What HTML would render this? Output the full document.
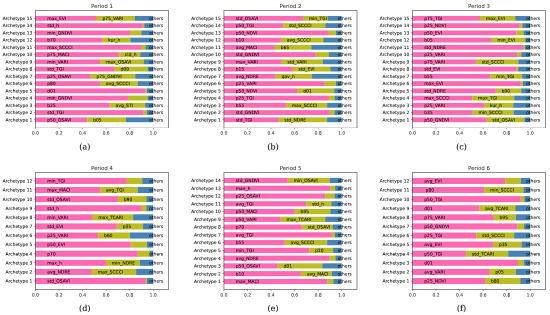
<!DOCTYPE html>
<html lang="en"><head><meta charset="utf-8"><title>Archetype periods</title>
<style>
html,body{margin:0;padding:0;background:#fff}
body{width:550px;height:315px;overflow:hidden}
svg{display:block}
.wrap{width:550px;height:315px;overflow:hidden;position:relative}
.ss{width:1100px;height:630px;transform:scale(0.5);transform-origin:0 0;will-change:transform}
text{font-family:"DejaVu Sans","Liberation Sans",sans-serif;fill:#000;text-rendering:geometricPrecision;stroke:#000;stroke-width:0.05px}
.t{font-size:4.45px}
.x{font-size:4.45px;fill:#222;stroke:#222;stroke-width:0.04px}
.h{font-size:5.35px;fill:#222;stroke:none}
.c{font-family:"DejaVu Serif","Liberation Serif",serif;font-size:8.1px;fill:#111;stroke:#111;stroke-width:0.1px}
.sp{fill:none;stroke:#000;stroke-width:0.45}
.tk{stroke:#000;stroke-width:0.35}
</style></head><body>
<div class="wrap"><div class="ss">
<svg width="1100" height="630" viewBox="0 0 550 315">
<rect width="550" height="315" fill="#fff"/>
<g>
<g>
<text class="h" x="101.98" y="7.9" text-anchor="middle">Period 1</text>
<rect x="35.45" y="15.95" width="61.11" height="4.82" fill="#ff69b4"/><rect x="96.56" y="15.95" width="38.39" height="4.82" fill="#bcbd22"/><rect x="134.95" y="15.95" width="18.25" height="4.82" fill="#4682b4"/>
<text class="t" x="47.23" y="19.96">max_EVI</text><text class="t" x="102.45" y="19.96">p75_VARI</text><text class="t" x="149.08" y="19.96">others</text><line class="tk" x1="33.95" x2="35.45" y1="18.36" y2="18.36"/><text class="t" x="32.35" y="19.96" text-anchor="end">Archetype 15</text>
<rect x="35.45" y="23.2" width="107.27" height="4.82" fill="#ff69b4"/><rect x="142.72" y="23.2" width="1.65" height="4.82" fill="#bcbd22"/><rect x="144.37" y="23.2" width="8.83" height="4.82" fill="#4682b4"/>
<text class="t" x="47.23" y="27.21">std_h</text><text class="t" x="149.08" y="27.21">others</text><line class="tk" x1="33.95" x2="35.45" y1="25.61" y2="25.61"/><text class="t" x="32.35" y="27.21" text-anchor="end">Archetype 14</text>
<rect x="35.45" y="30.44" width="94.55" height="4.82" fill="#ff69b4"/><rect x="130" y="30.44" width="11.54" height="4.82" fill="#bcbd22"/><rect x="141.54" y="30.44" width="11.66" height="4.82" fill="#4682b4"/>
<text class="t" x="47.23" y="34.45">min_GNDVI</text><text class="t" x="149.08" y="34.45">others</text><line class="tk" x1="33.95" x2="35.45" y1="32.85" y2="32.85"/><text class="t" x="32.35" y="34.45" text-anchor="end">Archetype 13</text>
<rect x="35.45" y="37.69" width="66.88" height="4.82" fill="#ff69b4"/><rect x="102.33" y="37.69" width="28.02" height="4.82" fill="#bcbd22"/><rect x="130.36" y="37.69" width="22.84" height="4.82" fill="#4682b4"/>
<text class="t" x="47.23" y="41.7">b70</text><text class="t" x="108.22" y="41.7">kur_h</text><text class="t" x="149.08" y="41.7">others</text><line class="tk" x1="33.95" x2="35.45" y1="40.1" y2="40.1"/><text class="t" x="32.35" y="41.7" text-anchor="end">Archetype 12</text>
<rect x="35.45" y="44.93" width="106.09" height="4.82" fill="#ff69b4"/><rect x="141.54" y="44.93" width="4.12" height="4.82" fill="#bcbd22"/><rect x="145.66" y="44.93" width="7.54" height="4.82" fill="#4682b4"/>
<text class="t" x="47.23" y="48.94">max_SCCCI</text><text class="t" x="149.08" y="48.94">others</text><line class="tk" x1="33.95" x2="35.45" y1="47.34" y2="47.34"/><text class="t" x="32.35" y="48.94" text-anchor="end">Archetype 11</text>
<rect x="35.45" y="52.18" width="83.37" height="4.82" fill="#ff69b4"/><rect x="118.82" y="52.18" width="21.43" height="4.82" fill="#bcbd22"/><rect x="140.25" y="52.18" width="12.95" height="4.82" fill="#4682b4"/>
<text class="t" x="47.23" y="56.19">p75_MACI</text><text class="t" x="124.7" y="56.19">std_h</text><text class="t" x="149.08" y="56.19">others</text><line class="tk" x1="33.95" x2="35.45" y1="54.59" y2="54.59"/><text class="t" x="32.35" y="56.19" text-anchor="end">Archetype 10</text>
<rect x="35.45" y="59.42" width="64.64" height="4.82" fill="#ff69b4"/><rect x="100.09" y="59.42" width="43.92" height="4.82" fill="#bcbd22"/><rect x="144.02" y="59.42" width="9.18" height="4.82" fill="#4682b4"/>
<text class="t" x="47.23" y="63.43">min_VARI</text><text class="t" x="105.98" y="63.43">max_OSAVI</text><text class="t" x="149.08" y="63.43">others</text><line class="tk" x1="33.95" x2="35.45" y1="61.83" y2="61.83"/><text class="t" x="32.35" y="63.43" text-anchor="end">Archetype 9</text>
<rect x="35.45" y="66.67" width="79.25" height="4.82" fill="#ff69b4"/><rect x="114.7" y="66.67" width="32.97" height="4.82" fill="#bcbd22"/><rect x="147.67" y="66.67" width="5.53" height="4.82" fill="#4682b4"/>
<text class="t" x="47.23" y="70.68">std_TGI</text><text class="t" x="120.58" y="70.68">d00</text><text class="t" x="149.08" y="70.68">others</text><line class="tk" x1="33.95" x2="35.45" y1="69.07" y2="69.07"/><text class="t" x="32.35" y="70.68" text-anchor="end">Archetype 8</text>
<rect x="35.45" y="73.91" width="55.22" height="4.82" fill="#ff69b4"/><rect x="90.67" y="73.91" width="44.63" height="4.82" fill="#bcbd22"/><rect x="135.3" y="73.91" width="17.9" height="4.82" fill="#4682b4"/>
<text class="t" x="47.23" y="77.92">p25_OSAVI</text><text class="t" x="96.56" y="77.92">p75_GNDVI</text><text class="t" x="149.08" y="77.92">others</text><line class="tk" x1="33.95" x2="35.45" y1="76.32" y2="76.32"/><text class="t" x="32.35" y="77.92" text-anchor="end">Archetype 7</text>
<rect x="35.45" y="81.16" width="64.64" height="4.82" fill="#ff69b4"/><rect x="100.09" y="81.16" width="37.68" height="4.82" fill="#bcbd22"/><rect x="137.77" y="81.16" width="15.43" height="4.82" fill="#4682b4"/>
<text class="t" x="47.23" y="85.17">p80</text><text class="t" x="105.98" y="85.17">avg_SCCCI</text><text class="t" x="149.08" y="85.17">others</text><line class="tk" x1="33.95" x2="35.45" y1="83.56" y2="83.56"/><text class="t" x="32.35" y="85.17" text-anchor="end">Archetype 6</text>
<rect x="35.45" y="88.4" width="109.74" height="4.82" fill="#ff69b4"/><rect x="145.19" y="88.4" width="1.65" height="4.82" fill="#bcbd22"/><rect x="146.84" y="88.4" width="6.36" height="4.82" fill="#4682b4"/>
<text class="t" x="47.23" y="92.41">d01</text><text class="t" x="149.08" y="92.41">others</text><line class="tk" x1="33.95" x2="35.45" y1="90.81" y2="90.81"/><text class="t" x="32.35" y="92.41" text-anchor="end">Archetype 5</text>
<rect x="35.45" y="95.65" width="92.08" height="4.82" fill="#ff69b4"/><rect x="127.53" y="95.65" width="20.14" height="4.82" fill="#bcbd22"/><rect x="147.67" y="95.65" width="5.53" height="4.82" fill="#4682b4"/>
<text class="t" x="47.23" y="99.66">min_GNDVI</text><text class="t" x="149.08" y="99.66">others</text><line class="tk" x1="33.95" x2="35.45" y1="98.05" y2="98.05"/><text class="t" x="32.35" y="99.66" text-anchor="end">Archetype 4</text>
<rect x="35.45" y="102.89" width="74.3" height="4.82" fill="#ff69b4"/><rect x="109.75" y="102.89" width="35.44" height="4.82" fill="#bcbd22"/><rect x="145.19" y="102.89" width="8.01" height="4.82" fill="#4682b4"/>
<text class="t" x="47.23" y="106.9">b25</text><text class="t" x="115.64" y="106.9">avg_STI</text><text class="t" x="149.08" y="106.9">others</text><line class="tk" x1="33.95" x2="35.45" y1="105.3" y2="105.3"/><text class="t" x="32.35" y="106.9" text-anchor="end">Archetype 3</text>
<rect x="35.45" y="110.14" width="107.62" height="4.82" fill="#ff69b4"/><rect x="143.07" y="110.14" width="3.77" height="4.82" fill="#bcbd22"/><rect x="146.84" y="110.14" width="6.36" height="4.82" fill="#4682b4"/>
<text class="t" x="47.23" y="114.15">std_TGI</text><text class="t" x="149.08" y="114.15">others</text><line class="tk" x1="33.95" x2="35.45" y1="112.54" y2="112.54"/><text class="t" x="32.35" y="114.15" text-anchor="end">Archetype 2</text>
<rect x="35.45" y="117.38" width="51.81" height="4.82" fill="#ff69b4"/><rect x="87.26" y="117.38" width="38.62" height="4.82" fill="#bcbd22"/><rect x="125.88" y="117.38" width="27.32" height="4.82" fill="#4682b4"/>
<text class="t" x="47.23" y="121.39">p50_OSAVI</text><text class="t" x="93.15" y="121.39">b05</text><text class="t" x="149.08" y="121.39">others</text><line class="tk" x1="33.95" x2="35.45" y1="119.79" y2="119.79"/><text class="t" x="32.35" y="121.39" text-anchor="end">Archetype 1</text>
<rect class="sp" x="35.45" y="10.5" width="133.05" height="117.15"/>
<line class="tk" x1="35.45" x2="35.45" y1="127.65" y2="129.15"/><text class="x" x="35.45" y="134.55" text-anchor="middle">0.0</text>
<line class="tk" x1="59" x2="59" y1="127.65" y2="129.15"/><text class="x" x="59" y="134.55" text-anchor="middle">0.2</text>
<line class="tk" x1="82.55" x2="82.55" y1="127.65" y2="129.15"/><text class="x" x="82.55" y="134.55" text-anchor="middle">0.4</text>
<line class="tk" x1="106.1" x2="106.1" y1="127.65" y2="129.15"/><text class="x" x="106.1" y="134.55" text-anchor="middle">0.6</text>
<line class="tk" x1="129.65" x2="129.65" y1="127.65" y2="129.15"/><text class="x" x="129.65" y="134.55" text-anchor="middle">0.8</text>
<line class="tk" x1="153.2" x2="153.2" y1="127.65" y2="129.15"/><text class="x" x="153.2" y="134.55" text-anchor="middle">1.0</text>
<text class="c" x="84.8" y="149.4" text-anchor="middle">(a)</text>
</g>
<g>
<text class="h" x="290.48" y="7.9" text-anchor="middle">Period 2</text>
<rect x="223.95" y="15.95" width="79.01" height="4.82" fill="#ff69b4"/><rect x="302.96" y="15.95" width="24.73" height="4.82" fill="#bcbd22"/><rect x="327.69" y="15.95" width="14.01" height="4.82" fill="#4682b4"/>
<text class="t" x="235.72" y="19.96">std_OSAVI</text><text class="t" x="308.85" y="19.96">min_TGI</text><text class="t" x="337.58" y="19.96">others</text><line class="tk" x1="222.45" x2="223.95" y1="18.36" y2="18.36"/><text class="t" x="220.85" y="19.96" text-anchor="end">Archetype 15</text>
<rect x="223.95" y="23.2" width="59.17" height="4.82" fill="#ff69b4"/><rect x="283.12" y="23.2" width="42.39" height="4.82" fill="#bcbd22"/><rect x="325.51" y="23.2" width="16.19" height="4.82" fill="#4682b4"/>
<text class="t" x="235.72" y="27.21">p50_TGI</text><text class="t" x="289.01" y="27.21">std_SCCCI</text><text class="t" x="337.58" y="27.21">others</text><line class="tk" x1="222.45" x2="223.95" y1="25.61" y2="25.61"/><text class="t" x="220.85" y="27.21" text-anchor="end">Archetype 14</text>
<rect x="223.95" y="30.44" width="104.56" height="4.82" fill="#ff69b4"/><rect x="328.51" y="30.44" width="7.42" height="4.82" fill="#bcbd22"/><rect x="335.93" y="30.44" width="5.77" height="4.82" fill="#4682b4"/>
<text class="t" x="235.72" y="34.45">p50_NDVI</text><text class="t" x="337.58" y="34.45">others</text><line class="tk" x1="222.45" x2="223.95" y1="32.85" y2="32.85"/><text class="t" x="220.85" y="34.45" text-anchor="end">Archetype 13</text>
<rect x="223.95" y="37.69" width="56.99" height="4.82" fill="#ff69b4"/><rect x="280.94" y="37.69" width="42.59" height="4.82" fill="#bcbd22"/><rect x="323.53" y="37.69" width="18.17" height="4.82" fill="#4682b4"/>
<text class="t" x="235.72" y="41.7">b10</text><text class="t" x="286.83" y="41.7">avg_SCCCI</text><text class="t" x="337.58" y="41.7">others</text><line class="tk" x1="222.45" x2="223.95" y1="40.1" y2="40.1"/><text class="t" x="220.85" y="41.7" text-anchor="end">Archetype 12</text>
<rect x="223.95" y="44.93" width="50.93" height="4.82" fill="#ff69b4"/><rect x="274.88" y="44.93" width="36.62" height="4.82" fill="#bcbd22"/><rect x="311.5" y="44.93" width="30.2" height="4.82" fill="#4682b4"/>
<text class="t" x="235.72" y="48.94">avg_MACI</text><text class="t" x="280.76" y="48.94">b65</text><text class="t" x="337.58" y="48.94">others</text><line class="tk" x1="222.45" x2="223.95" y1="47.34" y2="47.34"/><text class="t" x="220.85" y="48.94" text-anchor="end">Archetype 11</text>
<rect x="223.95" y="52.18" width="91.84" height="4.82" fill="#ff69b4"/><rect x="315.79" y="52.18" width="13.01" height="4.82" fill="#bcbd22"/><rect x="328.81" y="52.18" width="12.89" height="4.82" fill="#4682b4"/>
<text class="t" x="235.72" y="56.19">std_GNDVI</text><text class="t" x="337.58" y="56.19">others</text><line class="tk" x1="222.45" x2="223.95" y1="54.59" y2="54.59"/><text class="t" x="220.85" y="56.19" text-anchor="end">Archetype 10</text>
<rect x="223.95" y="59.42" width="57.52" height="4.82" fill="#ff69b4"/><rect x="281.47" y="59.42" width="41.24" height="4.82" fill="#bcbd22"/><rect x="322.71" y="59.42" width="18.99" height="4.82" fill="#4682b4"/>
<text class="t" x="235.72" y="63.43">max_VARI</text><text class="t" x="287.36" y="63.43">std_VARI</text><text class="t" x="337.58" y="63.43">others</text><line class="tk" x1="222.45" x2="223.95" y1="61.83" y2="61.83"/><text class="t" x="220.85" y="63.43" text-anchor="end">Archetype 9</text>
<rect x="223.95" y="66.67" width="68.53" height="4.82" fill="#ff69b4"/><rect x="292.48" y="66.67" width="37.99" height="4.82" fill="#bcbd22"/><rect x="330.47" y="66.67" width="11.23" height="4.82" fill="#4682b4"/>
<text class="t" x="235.72" y="70.68">b15</text><text class="t" x="298.37" y="70.68">std_EVI</text><text class="t" x="337.58" y="70.68">others</text><line class="tk" x1="222.45" x2="223.95" y1="69.07" y2="69.07"/><text class="t" x="220.85" y="70.68" text-anchor="end">Archetype 8</text>
<rect x="223.95" y="73.91" width="51.75" height="4.82" fill="#ff69b4"/><rect x="275.7" y="73.91" width="36.33" height="4.82" fill="#bcbd22"/><rect x="312.03" y="73.91" width="29.67" height="4.82" fill="#4682b4"/>
<text class="t" x="235.72" y="77.92">avg_NDRE</text><text class="t" x="281.59" y="77.92">qav_h</text><text class="t" x="337.58" y="77.92">others</text><line class="tk" x1="222.45" x2="223.95" y1="76.32" y2="76.32"/><text class="t" x="220.85" y="77.92" text-anchor="end">Archetype 7</text>
<rect x="223.95" y="81.16" width="100.91" height="4.82" fill="#ff69b4"/><rect x="324.86" y="81.16" width="11.07" height="4.82" fill="#bcbd22"/><rect x="335.93" y="81.16" width="5.77" height="4.82" fill="#4682b4"/>
<text class="t" x="235.72" y="85.17">p25_VARI</text><text class="t" x="337.58" y="85.17">others</text><line class="tk" x1="222.45" x2="223.95" y1="83.56" y2="83.56"/><text class="t" x="220.85" y="85.17" text-anchor="end">Archetype 6</text>
<rect x="223.95" y="88.4" width="73.52" height="4.82" fill="#ff69b4"/><rect x="297.47" y="88.4" width="36.81" height="4.82" fill="#bcbd22"/><rect x="334.28" y="88.4" width="7.42" height="4.82" fill="#4682b4"/>
<text class="t" x="235.72" y="92.41">p50_NDVI</text><text class="t" x="303.36" y="92.41">d01</text><text class="t" x="337.58" y="92.41">others</text><line class="tk" x1="222.45" x2="223.95" y1="90.81" y2="90.81"/><text class="t" x="220.85" y="92.41" text-anchor="end">Archetype 5</text>
<rect x="223.95" y="95.65" width="104.56" height="4.82" fill="#ff69b4"/><rect x="328.51" y="95.65" width="6.09" height="4.82" fill="#bcbd22"/><rect x="334.6" y="95.65" width="7.1" height="4.82" fill="#4682b4"/>
<text class="t" x="235.72" y="99.66">p25_TGI</text><text class="t" x="337.58" y="99.66">others</text><line class="tk" x1="222.45" x2="223.95" y1="98.05" y2="98.05"/><text class="t" x="220.85" y="99.66" text-anchor="end">Archetype 4</text>
<rect x="223.95" y="102.89" width="61.98" height="4.82" fill="#ff69b4"/><rect x="285.93" y="102.89" width="41.24" height="4.82" fill="#bcbd22"/><rect x="327.17" y="102.89" width="14.53" height="4.82" fill="#4682b4"/>
<text class="t" x="235.72" y="106.9">b55</text><text class="t" x="291.82" y="106.9">max_SCCCI</text><text class="t" x="337.58" y="106.9">others</text><line class="tk" x1="222.45" x2="223.95" y1="105.3" y2="105.3"/><text class="t" x="220.85" y="106.9" text-anchor="end">Archetype 3</text>
<rect x="223.95" y="110.14" width="105.86" height="4.82" fill="#ff69b4"/><rect x="329.81" y="110.14" width="4.79" height="4.82" fill="#bcbd22"/><rect x="334.6" y="110.14" width="7.1" height="4.82" fill="#4682b4"/>
<text class="t" x="235.72" y="114.15">std_GNDVI</text><text class="t" x="337.58" y="114.15">others</text><line class="tk" x1="222.45" x2="223.95" y1="112.54" y2="112.54"/><text class="t" x="220.85" y="114.15" text-anchor="end">Archetype 2</text>
<rect x="223.95" y="117.38" width="54.55" height="4.82" fill="#ff69b4"/><rect x="278.5" y="117.38" width="48.67" height="4.82" fill="#bcbd22"/><rect x="327.17" y="117.38" width="14.53" height="4.82" fill="#4682b4"/>
<text class="t" x="235.72" y="121.39">std_TGI</text><text class="t" x="284.39" y="121.39">std_NDRE</text><text class="t" x="337.58" y="121.39">others</text><line class="tk" x1="222.45" x2="223.95" y1="119.79" y2="119.79"/><text class="t" x="220.85" y="121.39" text-anchor="end">Archetype 1</text>
<rect class="sp" x="223.95" y="10.5" width="133.05" height="117.15"/>
<line class="tk" x1="223.95" x2="223.95" y1="127.65" y2="129.15"/><text class="x" x="223.95" y="134.55" text-anchor="middle">0.0</text>
<line class="tk" x1="247.5" x2="247.5" y1="127.65" y2="129.15"/><text class="x" x="247.5" y="134.55" text-anchor="middle">0.2</text>
<line class="tk" x1="271.05" x2="271.05" y1="127.65" y2="129.15"/><text class="x" x="271.05" y="134.55" text-anchor="middle">0.4</text>
<line class="tk" x1="294.6" x2="294.6" y1="127.65" y2="129.15"/><text class="x" x="294.6" y="134.55" text-anchor="middle">0.6</text>
<line class="tk" x1="318.15" x2="318.15" y1="127.65" y2="129.15"/><text class="x" x="318.15" y="134.55" text-anchor="middle">0.8</text>
<line class="tk" x1="341.7" x2="341.7" y1="127.65" y2="129.15"/><text class="x" x="341.7" y="134.55" text-anchor="middle">1.0</text>
<text class="c" x="273" y="149.4" text-anchor="middle">(b)</text>
</g>
<g>
<text class="h" x="478.98" y="7.9" text-anchor="middle">Period 3</text>
<rect x="412.45" y="15.95" width="67.59" height="4.82" fill="#ff69b4"/><rect x="480.04" y="15.95" width="35.32" height="4.82" fill="#bcbd22"/><rect x="515.36" y="15.95" width="14.84" height="4.82" fill="#4682b4"/>
<text class="t" x="424.22" y="19.96">p75_TGI</text><text class="t" x="485.93" y="19.96">max_EVI</text><text class="t" x="526.08" y="19.96">others</text><line class="tk" x1="410.95" x2="412.45" y1="18.36" y2="18.36"/><text class="t" x="409.35" y="19.96" text-anchor="end">Archetype 15</text>
<rect x="412.45" y="23.2" width="107.2" height="4.82" fill="#ff69b4"/><rect x="519.65" y="23.2" width="2.78" height="4.82" fill="#bcbd22"/><rect x="522.43" y="23.2" width="7.77" height="4.82" fill="#4682b4"/>
<text class="t" x="424.22" y="27.21">p25_NDVI</text><text class="t" x="526.08" y="27.21">others</text><line class="tk" x1="410.95" x2="412.45" y1="25.61" y2="25.61"/><text class="t" x="409.35" y="27.21" text-anchor="end">Archetype 14</text>
<rect x="412.45" y="30.44" width="103.74" height="4.82" fill="#ff69b4"/><rect x="516.19" y="30.44" width="7.42" height="4.82" fill="#bcbd22"/><rect x="523.61" y="30.44" width="6.59" height="4.82" fill="#4682b4"/>
<text class="t" x="424.22" y="34.45">p50_EVI</text><text class="t" x="526.08" y="34.45">others</text><line class="tk" x1="410.95" x2="412.45" y1="32.85" y2="32.85"/><text class="t" x="409.35" y="34.45" text-anchor="end">Archetype 13</text>
<rect x="412.45" y="37.69" width="79.01" height="4.82" fill="#ff69b4"/><rect x="491.46" y="37.69" width="33.79" height="4.82" fill="#bcbd22"/><rect x="525.25" y="37.69" width="4.95" height="4.82" fill="#4682b4"/>
<text class="t" x="424.22" y="41.7">b05</text><text class="t" x="497.35" y="41.7">min_EVI</text><text class="t" x="526.08" y="41.7">others</text><line class="tk" x1="410.95" x2="412.45" y1="40.1" y2="40.1"/><text class="t" x="409.35" y="41.7" text-anchor="end">Archetype 12</text>
<rect x="412.45" y="44.93" width="111.16" height="4.82" fill="#ff69b4"/><rect x="523.61" y="44.93" width="1.41" height="4.82" fill="#bcbd22"/><rect x="525.02" y="44.93" width="5.18" height="4.82" fill="#4682b4"/>
<text class="t" x="424.22" y="48.94">std_NDRE</text><text class="t" x="526.08" y="48.94">others</text><line class="tk" x1="410.95" x2="412.45" y1="47.34" y2="47.34"/><text class="t" x="409.35" y="48.94" text-anchor="end">Archetype 11</text>
<rect x="412.45" y="52.18" width="104.74" height="4.82" fill="#ff69b4"/><rect x="517.19" y="52.18" width="4.12" height="4.82" fill="#bcbd22"/><rect x="521.31" y="52.18" width="8.89" height="4.82" fill="#4682b4"/>
<text class="t" x="424.22" y="56.19">p25_VARI</text><text class="t" x="526.08" y="56.19">others</text><line class="tk" x1="410.95" x2="412.45" y1="54.59" y2="54.59"/><text class="t" x="409.35" y="56.19" text-anchor="end">Archetype 10</text>
<rect x="412.45" y="59.42" width="63.47" height="4.82" fill="#ff69b4"/><rect x="475.92" y="59.42" width="42.39" height="4.82" fill="#bcbd22"/><rect x="518.31" y="59.42" width="11.89" height="4.82" fill="#4682b4"/>
<text class="t" x="424.22" y="63.43">p75_VARI</text><text class="t" x="481.8" y="63.43">std_SCCCI</text><text class="t" x="526.08" y="63.43">others</text><line class="tk" x1="410.95" x2="412.45" y1="61.83" y2="61.83"/><text class="t" x="409.35" y="63.43" text-anchor="end">Archetype 9</text>
<rect x="412.45" y="66.67" width="103.74" height="4.82" fill="#ff69b4"/><rect x="516.19" y="66.67" width="2.12" height="4.82" fill="#bcbd22"/><rect x="518.31" y="66.67" width="11.89" height="4.82" fill="#4682b4"/>
<text class="t" x="424.22" y="70.68">std_EVI</text><text class="t" x="526.08" y="70.68">others</text><line class="tk" x1="410.95" x2="412.45" y1="69.07" y2="69.07"/><text class="t" x="409.35" y="70.68" text-anchor="end">Archetype 8</text>
<rect x="412.45" y="73.91" width="77.83" height="4.82" fill="#ff69b4"/><rect x="490.28" y="73.91" width="31.85" height="4.82" fill="#bcbd22"/><rect x="522.13" y="73.91" width="8.07" height="4.82" fill="#4682b4"/>
<text class="t" x="424.22" y="77.92">b55</text><text class="t" x="496.17" y="77.92">min_TGI</text><text class="t" x="526.08" y="77.92">others</text><line class="tk" x1="410.95" x2="412.45" y1="76.32" y2="76.32"/><text class="t" x="409.35" y="77.92" text-anchor="end">Archetype 7</text>
<rect x="412.45" y="81.16" width="108.33" height="4.82" fill="#ff69b4"/><rect x="520.78" y="81.16" width="2.18" height="4.82" fill="#bcbd22"/><rect x="522.96" y="81.16" width="7.24" height="4.82" fill="#4682b4"/>
<text class="t" x="424.22" y="85.17">max_EVI</text><text class="t" x="526.08" y="85.17">others</text><line class="tk" x1="410.95" x2="412.45" y1="83.56" y2="83.56"/><text class="t" x="409.35" y="85.17" text-anchor="end">Archetype 6</text>
<rect x="412.45" y="88.4" width="83.25" height="4.82" fill="#ff69b4"/><rect x="495.7" y="88.4" width="25.79" height="4.82" fill="#bcbd22"/><rect x="521.49" y="88.4" width="8.71" height="4.82" fill="#4682b4"/>
<text class="t" x="424.22" y="92.41">std_NDRE</text><text class="t" x="501.59" y="92.41">b90</text><text class="t" x="526.08" y="92.41">others</text><line class="tk" x1="410.95" x2="412.45" y1="90.81" y2="90.81"/><text class="t" x="409.35" y="92.41" text-anchor="end">Archetype 5</text>
<rect x="412.45" y="95.65" width="59.7" height="4.82" fill="#ff69b4"/><rect x="472.15" y="95.65" width="42.04" height="4.82" fill="#bcbd22"/><rect x="514.19" y="95.65" width="16.01" height="4.82" fill="#4682b4"/>
<text class="t" x="424.22" y="99.66">max_SCCCI</text><text class="t" x="478.04" y="99.66">max_TGI</text><text class="t" x="526.08" y="99.66">others</text><line class="tk" x1="410.95" x2="412.45" y1="98.05" y2="98.05"/><text class="t" x="409.35" y="99.66" text-anchor="end">Archetype 4</text>
<rect x="412.45" y="102.89" width="71.59" height="4.82" fill="#ff69b4"/><rect x="484.04" y="102.89" width="29.32" height="4.82" fill="#bcbd22"/><rect x="513.36" y="102.89" width="16.84" height="4.82" fill="#4682b4"/>
<text class="t" x="424.22" y="106.9">p25_VARI</text><text class="t" x="489.93" y="106.9">kur_h</text><text class="t" x="526.08" y="106.9">others</text><line class="tk" x1="410.95" x2="412.45" y1="105.3" y2="105.3"/><text class="t" x="409.35" y="106.9" text-anchor="end">Archetype 3</text>
<rect x="412.45" y="110.14" width="60.17" height="4.82" fill="#ff69b4"/><rect x="472.62" y="110.14" width="41.09" height="4.82" fill="#bcbd22"/><rect x="513.72" y="110.14" width="16.49" height="4.82" fill="#4682b4"/>
<text class="t" x="424.22" y="114.15">b35</text><text class="t" x="478.51" y="114.15">min_SCCCI</text><text class="t" x="526.08" y="114.15">others</text><line class="tk" x1="410.95" x2="412.45" y1="112.54" y2="112.54"/><text class="t" x="409.35" y="114.15" text-anchor="end">Archetype 2</text>
<rect x="412.45" y="117.38" width="74.06" height="4.82" fill="#ff69b4"/><rect x="486.51" y="117.38" width="37.92" height="4.82" fill="#bcbd22"/><rect x="524.43" y="117.38" width="5.77" height="4.82" fill="#4682b4"/>
<text class="t" x="424.22" y="121.39">p50_GNDVI</text><text class="t" x="492.4" y="121.39">std_OSAVI</text><text class="t" x="526.08" y="121.39">others</text><line class="tk" x1="410.95" x2="412.45" y1="119.79" y2="119.79"/><text class="t" x="409.35" y="121.39" text-anchor="end">Archetype 1</text>
<rect class="sp" x="412.45" y="10.5" width="133.05" height="117.15"/>
<line class="tk" x1="412.45" x2="412.45" y1="127.65" y2="129.15"/><text class="x" x="412.45" y="134.55" text-anchor="middle">0.0</text>
<line class="tk" x1="436" x2="436" y1="127.65" y2="129.15"/><text class="x" x="436" y="134.55" text-anchor="middle">0.2</text>
<line class="tk" x1="459.55" x2="459.55" y1="127.65" y2="129.15"/><text class="x" x="459.55" y="134.55" text-anchor="middle">0.4</text>
<line class="tk" x1="483.1" x2="483.1" y1="127.65" y2="129.15"/><text class="x" x="483.1" y="134.55" text-anchor="middle">0.6</text>
<line class="tk" x1="506.65" x2="506.65" y1="127.65" y2="129.15"/><text class="x" x="506.65" y="134.55" text-anchor="middle">0.8</text>
<line class="tk" x1="530.2" x2="530.2" y1="127.65" y2="129.15"/><text class="x" x="530.2" y="134.55" text-anchor="middle">1.0</text>
<text class="c" x="461.5" y="149.4" text-anchor="middle">(c)</text>
</g>
<g>
<text class="h" x="101.98" y="169.85" text-anchor="middle">Period 4</text>
<rect x="35.45" y="177.93" width="91.09" height="6.05" fill="#ff69b4"/><rect x="126.54" y="177.93" width="15.67" height="6.05" fill="#bcbd22"/><rect x="142.21" y="177.93" width="10.99" height="6.05" fill="#4682b4"/>
<text class="t" x="47.23" y="182.56">min_TGI</text><text class="t" x="149.08" y="182.56">others</text><line class="tk" x1="33.95" x2="35.45" y1="180.95" y2="180.95"/><text class="t" x="32.35" y="182.56" text-anchor="end">Archetype 12</text>
<rect x="35.45" y="187.02" width="64.7" height="6.05" fill="#ff69b4"/><rect x="100.15" y="187.02" width="37.62" height="6.05" fill="#bcbd22"/><rect x="137.77" y="187.02" width="15.43" height="6.05" fill="#4682b4"/>
<text class="t" x="47.23" y="191.65">max_MACI</text><text class="t" x="106.04" y="191.65">avg_TGI</text><text class="t" x="149.08" y="191.65">others</text><line class="tk" x1="33.95" x2="35.45" y1="190.05" y2="190.05"/><text class="t" x="32.35" y="191.65" text-anchor="end">Archetype 11</text>
<rect x="35.45" y="196.12" width="82.52" height="6.05" fill="#ff69b4"/><rect x="117.97" y="196.12" width="28.52" height="6.05" fill="#bcbd22"/><rect x="146.49" y="196.12" width="6.71" height="6.05" fill="#4682b4"/>
<text class="t" x="47.23" y="200.75">std_OSAVI</text><text class="t" x="123.86" y="200.75">b90</text><text class="t" x="149.08" y="200.75">others</text><line class="tk" x1="33.95" x2="35.45" y1="199.14" y2="199.14"/><text class="t" x="32.35" y="200.75" text-anchor="end">Archetype 10</text>
<rect x="35.45" y="205.21" width="106.09" height="6.05" fill="#ff69b4"/><rect x="141.54" y="205.21" width="4.79" height="6.05" fill="#bcbd22"/><rect x="146.34" y="205.21" width="6.86" height="6.05" fill="#4682b4"/>
<text class="t" x="47.23" y="209.84">std_h</text><text class="t" x="149.08" y="209.84">others</text><line class="tk" x1="33.95" x2="35.45" y1="208.24" y2="208.24"/><text class="t" x="32.35" y="209.84" text-anchor="end">Archetype 9</text>
<rect x="35.45" y="214.31" width="56.99" height="6.05" fill="#ff69b4"/><rect x="92.44" y="214.31" width="40.69" height="6.05" fill="#bcbd22"/><rect x="133.14" y="214.31" width="20.06" height="6.05" fill="#4682b4"/>
<text class="t" x="47.23" y="218.93">min_VARI</text><text class="t" x="98.33" y="218.93">max_TCARI</text><text class="t" x="149.08" y="218.93">others</text><line class="tk" x1="33.95" x2="35.45" y1="217.33" y2="217.33"/><text class="t" x="32.35" y="218.93" text-anchor="end">Archetype 8</text>
<rect x="35.45" y="223.4" width="81.37" height="6.05" fill="#ff69b4"/><rect x="116.82" y="223.4" width="26.22" height="6.05" fill="#bcbd22"/><rect x="143.04" y="223.4" width="10.16" height="6.05" fill="#4682b4"/>
<text class="t" x="47.23" y="228.03">std_EVI</text><text class="t" x="122.7" y="228.03">p35</text><text class="t" x="149.08" y="228.03">others</text><line class="tk" x1="33.95" x2="35.45" y1="226.43" y2="226.43"/><text class="t" x="32.35" y="228.03" text-anchor="end">Archetype 7</text>
<rect x="35.45" y="232.5" width="62.73" height="6.05" fill="#ff69b4"/><rect x="98.18" y="232.5" width="31.83" height="6.05" fill="#bcbd22"/><rect x="130" y="232.5" width="23.2" height="6.05" fill="#4682b4"/>
<text class="t" x="47.23" y="237.12">p25_VARI</text><text class="t" x="104.06" y="237.12">b60</text><text class="t" x="149.08" y="237.12">others</text><line class="tk" x1="33.95" x2="35.45" y1="235.52" y2="235.52"/><text class="t" x="32.35" y="237.12" text-anchor="end">Archetype 6</text>
<rect x="35.45" y="241.59" width="95.38" height="6.05" fill="#ff69b4"/><rect x="130.83" y="241.59" width="16" height="6.05" fill="#bcbd22"/><rect x="146.83" y="241.59" width="6.37" height="6.05" fill="#4682b4"/>
<text class="t" x="47.23" y="246.22">p50_EVI</text><text class="t" x="149.08" y="246.22">others</text><line class="tk" x1="33.95" x2="35.45" y1="244.62" y2="244.62"/><text class="t" x="32.35" y="246.22" text-anchor="end">Archetype 5</text>
<rect x="35.45" y="250.69" width="102.32" height="6.05" fill="#ff69b4"/><rect x="137.77" y="250.69" width="11.86" height="6.05" fill="#bcbd22"/><rect x="149.63" y="250.69" width="3.57" height="6.05" fill="#4682b4"/>
<text class="t" x="47.23" y="255.31">p70</text><text class="t" x="149.08" y="255.31">others</text><line class="tk" x1="33.95" x2="35.45" y1="253.71" y2="253.71"/><text class="t" x="32.35" y="255.31" text-anchor="end">Archetype 4</text>
<rect x="35.45" y="259.78" width="70.47" height="6.05" fill="#ff69b4"/><rect x="105.92" y="259.78" width="33.97" height="6.05" fill="#bcbd22"/><rect x="139.89" y="259.78" width="13.31" height="6.05" fill="#4682b4"/>
<text class="t" x="47.23" y="264.41">max_h</text><text class="t" x="111.81" y="264.41">min_NDRE</text><text class="t" x="149.08" y="264.41">others</text><line class="tk" x1="33.95" x2="35.45" y1="262.81" y2="262.81"/><text class="t" x="32.35" y="264.41" text-anchor="end">Archetype 3</text>
<rect x="35.45" y="268.88" width="56.47" height="6.05" fill="#ff69b4"/><rect x="91.92" y="268.88" width="44.18" height="6.05" fill="#bcbd22"/><rect x="136.1" y="268.88" width="17.1" height="6.05" fill="#4682b4"/>
<text class="t" x="47.23" y="273.5">avg_NDRE</text><text class="t" x="97.81" y="273.5">max_SCCCI</text><text class="t" x="149.08" y="273.5">others</text><line class="tk" x1="33.95" x2="35.45" y1="271.9" y2="271.9"/><text class="t" x="32.35" y="273.5" text-anchor="end">Archetype 2</text>
<rect x="35.45" y="277.97" width="110.06" height="6.05" fill="#ff69b4"/><rect x="145.51" y="277.97" width="1.32" height="6.05" fill="#bcbd22"/><rect x="146.83" y="277.97" width="6.37" height="6.05" fill="#4682b4"/>
<text class="t" x="47.23" y="282.6">std_OSAVI</text><text class="t" x="149.08" y="282.6">others</text><line class="tk" x1="33.95" x2="35.45" y1="281" y2="281"/><text class="t" x="32.35" y="282.6" text-anchor="end">Archetype 1</text>
<rect class="sp" x="35.45" y="172.45" width="133.05" height="117.05"/>
<line class="tk" x1="35.45" x2="35.45" y1="289.5" y2="291"/><text class="x" x="35.45" y="296.4" text-anchor="middle">0.0</text>
<line class="tk" x1="59" x2="59" y1="289.5" y2="291"/><text class="x" x="59" y="296.4" text-anchor="middle">0.2</text>
<line class="tk" x1="82.55" x2="82.55" y1="289.5" y2="291"/><text class="x" x="82.55" y="296.4" text-anchor="middle">0.4</text>
<line class="tk" x1="106.1" x2="106.1" y1="289.5" y2="291"/><text class="x" x="106.1" y="296.4" text-anchor="middle">0.6</text>
<line class="tk" x1="129.65" x2="129.65" y1="289.5" y2="291"/><text class="x" x="129.65" y="296.4" text-anchor="middle">0.8</text>
<line class="tk" x1="153.2" x2="153.2" y1="289.5" y2="291"/><text class="x" x="153.2" y="296.4" text-anchor="middle">1.0</text>
<text class="c" x="84.8" y="310.9" text-anchor="middle">(d)</text>
</g>
<g>
<text class="h" x="290.48" y="169.85" text-anchor="middle">Period 5</text>
<rect x="223.95" y="177.91" width="63.8" height="5.17" fill="#ff69b4"/><rect x="287.75" y="177.91" width="42.06" height="5.17" fill="#bcbd22"/><rect x="329.81" y="177.91" width="11.89" height="5.17" fill="#4682b4"/>
<text class="t" x="235.72" y="182.09">std_GNDVI</text><text class="t" x="293.63" y="182.09">min_OSAVI</text><text class="t" x="337.58" y="182.09">others</text><line class="tk" x1="222.45" x2="223.95" y1="180.49" y2="180.49"/><text class="t" x="220.85" y="182.09" text-anchor="end">Archetype 14</text>
<rect x="223.95" y="185.67" width="106.21" height="5.17" fill="#ff69b4"/><rect x="330.16" y="185.67" width="4.95" height="5.17" fill="#bcbd22"/><rect x="335.11" y="185.67" width="6.59" height="5.17" fill="#4682b4"/>
<text class="t" x="235.72" y="189.86">max_h</text><text class="t" x="337.58" y="189.86">others</text><line class="tk" x1="222.45" x2="223.95" y1="188.26" y2="188.26"/><text class="t" x="220.85" y="189.86" text-anchor="end">Archetype 13</text>
<rect x="223.95" y="193.44" width="101.26" height="5.17" fill="#ff69b4"/><rect x="325.21" y="193.44" width="9.38" height="5.17" fill="#bcbd22"/><rect x="334.6" y="193.44" width="7.1" height="5.17" fill="#4682b4"/>
<text class="t" x="235.72" y="197.63">p25_OSAVI</text><text class="t" x="337.58" y="197.63">others</text><line class="tk" x1="222.45" x2="223.95" y1="196.02" y2="196.02"/><text class="t" x="220.85" y="197.63" text-anchor="end">Archetype 12</text>
<rect x="223.95" y="201.21" width="82.27" height="5.17" fill="#ff69b4"/><rect x="306.22" y="201.21" width="25.23" height="5.17" fill="#bcbd22"/><rect x="331.46" y="201.21" width="10.24" height="5.17" fill="#4682b4"/>
<text class="t" x="235.72" y="205.39">avg_TGI</text><text class="t" x="312.11" y="205.39">std_h</text><text class="t" x="337.58" y="205.39">others</text><line class="tk" x1="222.45" x2="223.95" y1="203.79" y2="203.79"/><text class="t" x="220.85" y="205.39" text-anchor="end">Archetype 11</text>
<rect x="223.95" y="208.97" width="70.72" height="5.17" fill="#ff69b4"/><rect x="294.67" y="208.97" width="35.8" height="5.17" fill="#bcbd22"/><rect x="330.47" y="208.97" width="11.23" height="5.17" fill="#4682b4"/>
<text class="t" x="235.72" y="213.16">p50_MACI</text><text class="t" x="300.56" y="213.16">b95</text><text class="t" x="337.58" y="213.16">others</text><line class="tk" x1="222.45" x2="223.95" y1="211.56" y2="211.56"/><text class="t" x="220.85" y="213.16" text-anchor="end">Archetype 10</text>
<rect x="223.95" y="216.74" width="56.7" height="5.17" fill="#ff69b4"/><rect x="280.65" y="216.74" width="44.86" height="5.17" fill="#bcbd22"/><rect x="325.51" y="216.74" width="16.19" height="5.17" fill="#4682b4"/>
<text class="t" x="235.72" y="220.93">p50_VARI</text><text class="t" x="286.53" y="220.93">max_TCARI</text><text class="t" x="337.58" y="220.93">others</text><line class="tk" x1="222.45" x2="223.95" y1="219.32" y2="219.32"/><text class="t" x="220.85" y="220.93" text-anchor="end">Archetype 9</text>
<rect x="223.95" y="224.51" width="77.83" height="5.17" fill="#ff69b4"/><rect x="301.78" y="224.51" width="30.83" height="5.17" fill="#bcbd22"/><rect x="332.61" y="224.51" width="9.09" height="5.17" fill="#4682b4"/>
<text class="t" x="235.72" y="228.69">p70</text><text class="t" x="307.67" y="228.69">std_OSAVI</text><text class="t" x="337.58" y="228.69">others</text><line class="tk" x1="222.45" x2="223.95" y1="227.09" y2="227.09"/><text class="t" x="220.85" y="228.69" text-anchor="end">Archetype 8</text>
<rect x="223.95" y="232.28" width="107.51" height="5.17" fill="#ff69b4"/><rect x="331.46" y="232.28" width="3.3" height="5.17" fill="#bcbd22"/><rect x="334.75" y="232.28" width="6.95" height="5.17" fill="#4682b4"/>
<text class="t" x="235.72" y="236.46">avg_TGI</text><text class="t" x="337.58" y="236.46">others</text><line class="tk" x1="222.45" x2="223.95" y1="234.86" y2="234.86"/><text class="t" x="220.85" y="236.46" text-anchor="end">Archetype 7</text>
<rect x="223.95" y="240.04" width="60.83" height="5.17" fill="#ff69b4"/><rect x="284.78" y="240.04" width="42.39" height="5.17" fill="#bcbd22"/><rect x="327.17" y="240.04" width="14.53" height="5.17" fill="#4682b4"/>
<text class="t" x="235.72" y="244.23">b55</text><text class="t" x="290.67" y="244.23">avg_SCCCI</text><text class="t" x="337.58" y="244.23">others</text><line class="tk" x1="222.45" x2="223.95" y1="242.63" y2="242.63"/><text class="t" x="220.85" y="244.23" text-anchor="end">Archetype 6</text>
<rect x="223.95" y="247.81" width="85.24" height="5.17" fill="#ff69b4"/><rect x="309.19" y="247.81" width="23.92" height="5.17" fill="#bcbd22"/><rect x="333.1" y="247.81" width="8.6" height="5.17" fill="#4682b4"/>
<text class="t" x="235.72" y="251.99">min_TGI</text><text class="t" x="315.08" y="251.99">p10</text><text class="t" x="337.58" y="251.99">others</text><line class="tk" x1="222.45" x2="223.95" y1="250.39" y2="250.39"/><text class="t" x="220.85" y="251.99" text-anchor="end">Archetype 5</text>
<rect x="223.95" y="255.58" width="105.69" height="5.17" fill="#ff69b4"/><rect x="329.64" y="255.58" width="5.93" height="5.17" fill="#bcbd22"/><rect x="335.58" y="255.58" width="6.12" height="5.17" fill="#4682b4"/>
<text class="t" x="235.72" y="259.76">avg_NDRE</text><text class="t" x="337.58" y="259.76">others</text><line class="tk" x1="222.45" x2="223.95" y1="258.16" y2="258.16"/><text class="t" x="220.85" y="259.76" text-anchor="end">Archetype 4</text>
<rect x="223.95" y="263.34" width="53.73" height="5.17" fill="#ff69b4"/><rect x="277.68" y="263.34" width="44.71" height="5.17" fill="#bcbd22"/><rect x="322.39" y="263.34" width="19.31" height="5.17" fill="#4682b4"/>
<text class="t" x="235.72" y="267.53">p50_OSAVI</text><text class="t" x="283.57" y="267.53">d01</text><text class="t" x="337.58" y="267.53">others</text><line class="tk" x1="222.45" x2="223.95" y1="265.93" y2="265.93"/><text class="t" x="220.85" y="267.53" text-anchor="end">Archetype 3</text>
<rect x="223.95" y="271.11" width="76.98" height="5.17" fill="#ff69b4"/><rect x="300.93" y="271.11" width="30.87" height="5.17" fill="#bcbd22"/><rect x="331.81" y="271.11" width="9.89" height="5.17" fill="#4682b4"/>
<text class="t" x="235.72" y="275.3">b10</text><text class="t" x="306.82" y="275.3">avg_MACI</text><text class="t" x="337.58" y="275.3">others</text><line class="tk" x1="222.45" x2="223.95" y1="273.69" y2="273.69"/><text class="t" x="220.85" y="275.3" text-anchor="end">Archetype 2</text>
<rect x="223.95" y="278.88" width="103.38" height="5.17" fill="#ff69b4"/><rect x="327.33" y="278.88" width="6.1" height="5.17" fill="#bcbd22"/><rect x="333.43" y="278.88" width="8.27" height="5.17" fill="#4682b4"/>
<text class="t" x="235.72" y="283.06">max_MACI</text><text class="t" x="337.58" y="283.06">others</text><line class="tk" x1="222.45" x2="223.95" y1="281.46" y2="281.46"/><text class="t" x="220.85" y="283.06" text-anchor="end">Archetype 1</text>
<rect class="sp" x="223.95" y="172.45" width="133.05" height="117.05"/>
<line class="tk" x1="223.95" x2="223.95" y1="289.5" y2="291"/><text class="x" x="223.95" y="296.4" text-anchor="middle">0.0</text>
<line class="tk" x1="247.5" x2="247.5" y1="289.5" y2="291"/><text class="x" x="247.5" y="296.4" text-anchor="middle">0.2</text>
<line class="tk" x1="271.05" x2="271.05" y1="289.5" y2="291"/><text class="x" x="271.05" y="296.4" text-anchor="middle">0.4</text>
<line class="tk" x1="294.6" x2="294.6" y1="289.5" y2="291"/><text class="x" x="294.6" y="296.4" text-anchor="middle">0.6</text>
<line class="tk" x1="318.15" x2="318.15" y1="289.5" y2="291"/><text class="x" x="318.15" y="296.4" text-anchor="middle">0.8</text>
<line class="tk" x1="341.7" x2="341.7" y1="289.5" y2="291"/><text class="x" x="341.7" y="296.4" text-anchor="middle">1.0</text>
<text class="c" x="273" y="310.9" text-anchor="middle">(e)</text>
</g>
<g>
<text class="h" x="478.98" y="169.85" text-anchor="middle">Period 6</text>
<rect x="412.45" y="177.93" width="92.67" height="6.05" fill="#ff69b4"/><rect x="505.12" y="177.93" width="15.66" height="6.05" fill="#bcbd22"/><rect x="520.78" y="177.93" width="9.42" height="6.05" fill="#4682b4"/>
<text class="t" x="424.22" y="182.56">avg_EVI</text><text class="t" x="526.08" y="182.56">others</text><line class="tk" x1="410.95" x2="412.45" y1="180.95" y2="180.95"/><text class="t" x="409.35" y="182.56" text-anchor="end">Archetype 12</text>
<rect x="412.45" y="187.02" width="71.71" height="6.05" fill="#ff69b4"/><rect x="484.16" y="187.02" width="39.45" height="6.05" fill="#bcbd22"/><rect x="523.61" y="187.02" width="6.59" height="6.05" fill="#4682b4"/>
<text class="t" x="425.64" y="191.65">p80</text><text class="t" x="490.05" y="191.65">min_SCCCI</text><text class="t" x="526.08" y="191.65">others</text><line class="tk" x1="410.95" x2="412.45" y1="190.05" y2="190.05"/><text class="t" x="409.35" y="191.65" text-anchor="end">Archetype 11</text>
<rect x="412.45" y="196.12" width="108.33" height="6.05" fill="#ff69b4"/><rect x="520.78" y="196.12" width="3.65" height="6.05" fill="#bcbd22"/><rect x="524.43" y="196.12" width="5.77" height="6.05" fill="#4682b4"/>
<text class="t" x="424.22" y="200.75">p50_TGI</text><text class="t" x="526.08" y="200.75">others</text><line class="tk" x1="410.95" x2="412.45" y1="199.14" y2="199.14"/><text class="t" x="409.35" y="200.75" text-anchor="end">Archetype 10</text>
<rect x="412.45" y="205.21" width="66.76" height="6.05" fill="#ff69b4"/><rect x="479.21" y="205.21" width="36.33" height="6.05" fill="#bcbd22"/><rect x="515.54" y="205.21" width="14.66" height="6.05" fill="#4682b4"/>
<text class="t" x="424.22" y="209.84">d01</text><text class="t" x="485.1" y="209.84">avg_TCARI</text><text class="t" x="526.08" y="209.84">others</text><line class="tk" x1="410.95" x2="412.45" y1="208.24" y2="208.24"/><text class="t" x="409.35" y="209.84" text-anchor="end">Archetype 9</text>
<rect x="412.45" y="214.31" width="81.13" height="6.05" fill="#ff69b4"/><rect x="493.58" y="214.31" width="22.25" height="6.05" fill="#bcbd22"/><rect x="515.83" y="214.31" width="14.37" height="6.05" fill="#4682b4"/>
<text class="t" x="424.22" y="218.93">p75_VARI</text><text class="t" x="499.47" y="218.93">b95</text><text class="t" x="526.08" y="218.93">others</text><line class="tk" x1="410.95" x2="412.45" y1="217.33" y2="217.33"/><text class="t" x="409.35" y="218.93" text-anchor="end">Archetype 8</text>
<rect x="412.45" y="223.4" width="104.74" height="6.05" fill="#ff69b4"/><rect x="517.19" y="223.4" width="6.89" height="6.05" fill="#bcbd22"/><rect x="524.08" y="223.4" width="6.12" height="6.05" fill="#4682b4"/>
<text class="t" x="424.22" y="228.03">p50_GNDVI</text><text class="t" x="526.08" y="228.03">others</text><line class="tk" x1="410.95" x2="412.45" y1="226.43" y2="226.43"/><text class="t" x="409.35" y="228.03" text-anchor="end">Archetype 7</text>
<rect x="412.45" y="232.5" width="63.82" height="6.05" fill="#ff69b4"/><rect x="476.27" y="232.5" width="37.92" height="6.05" fill="#bcbd22"/><rect x="514.19" y="232.5" width="16.01" height="6.05" fill="#4682b4"/>
<text class="t" x="424.22" y="237.12">p25_TGI</text><text class="t" x="482.16" y="237.12">std_SCCCI</text><text class="t" x="526.08" y="237.12">others</text><line class="tk" x1="410.95" x2="412.45" y1="235.52" y2="235.52"/><text class="t" x="409.35" y="237.12" text-anchor="end">Archetype 6</text>
<rect x="412.45" y="241.59" width="80.66" height="6.05" fill="#ff69b4"/><rect x="493.11" y="241.59" width="28.5" height="6.05" fill="#bcbd22"/><rect x="521.6" y="241.59" width="8.6" height="6.05" fill="#4682b4"/>
<text class="t" x="424.22" y="246.22">avg_EVI</text><text class="t" x="499" y="246.22">p35</text><text class="t" x="526.08" y="246.22">others</text><line class="tk" x1="410.95" x2="412.45" y1="244.62" y2="244.62"/><text class="t" x="409.35" y="246.22" text-anchor="end">Archetype 5</text>
<rect x="412.45" y="250.69" width="53.75" height="6.05" fill="#ff69b4"/><rect x="466.2" y="250.69" width="41.91" height="6.05" fill="#bcbd22"/><rect x="508.11" y="250.69" width="22.09" height="6.05" fill="#4682b4"/>
<text class="t" x="424.22" y="255.31">p50_TGI</text><text class="t" x="472.09" y="255.31">std_TCARI</text><text class="t" x="526.08" y="255.31">others</text><line class="tk" x1="410.95" x2="412.45" y1="253.71" y2="253.71"/><text class="t" x="409.35" y="255.31" text-anchor="end">Archetype 4</text>
<rect x="412.45" y="259.78" width="105.55" height="6.05" fill="#ff69b4"/><rect x="518" y="259.78" width="6.08" height="6.05" fill="#bcbd22"/><rect x="524.08" y="259.78" width="6.12" height="6.05" fill="#4682b4"/>
<text class="t" x="424.22" y="264.41">d01</text><text class="t" x="526.08" y="264.41">others</text><line class="tk" x1="410.95" x2="412.45" y1="262.81" y2="262.81"/><text class="t" x="409.35" y="264.41" text-anchor="end">Archetype 3</text>
<rect x="412.45" y="268.88" width="77.01" height="6.05" fill="#ff69b4"/><rect x="489.46" y="268.88" width="26.38" height="6.05" fill="#bcbd22"/><rect x="515.83" y="268.88" width="14.37" height="6.05" fill="#4682b4"/>
<text class="t" x="424.22" y="273.5">avg_VARI</text><text class="t" x="495.35" y="273.5">p05</text><text class="t" x="526.08" y="273.5">others</text><line class="tk" x1="410.95" x2="412.45" y1="271.9" y2="271.9"/><text class="t" x="409.35" y="273.5" text-anchor="end">Archetype 2</text>
<rect x="412.45" y="277.97" width="72.57" height="6.05" fill="#ff69b4"/><rect x="485.02" y="277.97" width="35.47" height="6.05" fill="#bcbd22"/><rect x="520.49" y="277.97" width="9.71" height="6.05" fill="#4682b4"/>
<text class="t" x="424.22" y="282.6">p25_NDVI</text><text class="t" x="490.91" y="282.6">b80</text><text class="t" x="526.08" y="282.6">others</text><line class="tk" x1="410.95" x2="412.45" y1="281" y2="281"/><text class="t" x="409.35" y="282.6" text-anchor="end">Archetype 1</text>
<rect class="sp" x="412.45" y="172.45" width="133.05" height="117.05"/>
<line class="tk" x1="412.45" x2="412.45" y1="289.5" y2="291"/><text class="x" x="412.45" y="296.4" text-anchor="middle">0.0</text>
<line class="tk" x1="436" x2="436" y1="289.5" y2="291"/><text class="x" x="436" y="296.4" text-anchor="middle">0.2</text>
<line class="tk" x1="459.55" x2="459.55" y1="289.5" y2="291"/><text class="x" x="459.55" y="296.4" text-anchor="middle">0.4</text>
<line class="tk" x1="483.1" x2="483.1" y1="289.5" y2="291"/><text class="x" x="483.1" y="296.4" text-anchor="middle">0.6</text>
<line class="tk" x1="506.65" x2="506.65" y1="289.5" y2="291"/><text class="x" x="506.65" y="296.4" text-anchor="middle">0.8</text>
<line class="tk" x1="530.2" x2="530.2" y1="289.5" y2="291"/><text class="x" x="530.2" y="296.4" text-anchor="middle">1.0</text>
<text class="c" x="461.5" y="310.9" text-anchor="middle">(f)</text>
</g>
</g>
</svg>
</div></div>
</body></html>
